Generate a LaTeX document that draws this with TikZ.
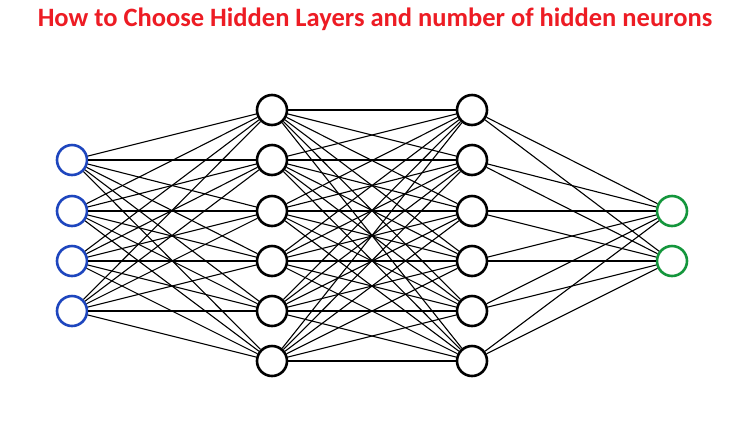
\documentclass[tikz,border=0pt]{standalone}
\usepackage{fontspec}
\setmainfont{Carlito}
\usetikzlibrary{positioning}
\definecolor{titlered}{RGB}{237,28,36}
\definecolor{inblue}{RGB}{30,70,190}
\definecolor{outgreen}{RGB}{20,150,60}
\tikzset{
  neuron/.style={circle,draw,line width=2.6pt,minimum size=30pt,inner sep=0pt,fill=white},
  link/.style={line width=1.1pt}
}
\begin{document}
\begin{tikzpicture}[x=1pt,y=-1pt]
\useasboundingbox (0,0) rectangle (730,432);
\node[font=\bfseries\fontsize{26.5}{30}\selectfont,text=titlered] (title) at (375,19) {How to Choose Hidden Layers and number of hidden neurons};
% neurons
\foreach \y [count=\n] in {160,211,261,311}
  \node[neuron,draw=inblue] (I\n) at (72,\y) {};
\foreach \y [count=\n] in {110,160,211,261,311,361}
  {
  \node[neuron] (A\n) at (272,\y) {};
  \node[neuron] (B\n) at (472,\y) {};
  }
\foreach \y [count=\n] in {211,261}
  \node[neuron,draw=outgreen] (O\n) at (672,\y) {};
% connections
\foreach \i in {1,...,4}
  \foreach \j in {1,...,6}
    \draw[link] (I\i) -- (A\j);
\foreach \i in {1,...,6}
  \foreach \j in {1,...,6}
    \draw[link] (A\i) -- (B\j);
\foreach \i in {1,...,6}
  \foreach \j in {1,2}
    \draw[link] (B\i) -- (O\j);
\end{tikzpicture}
\end{document}
